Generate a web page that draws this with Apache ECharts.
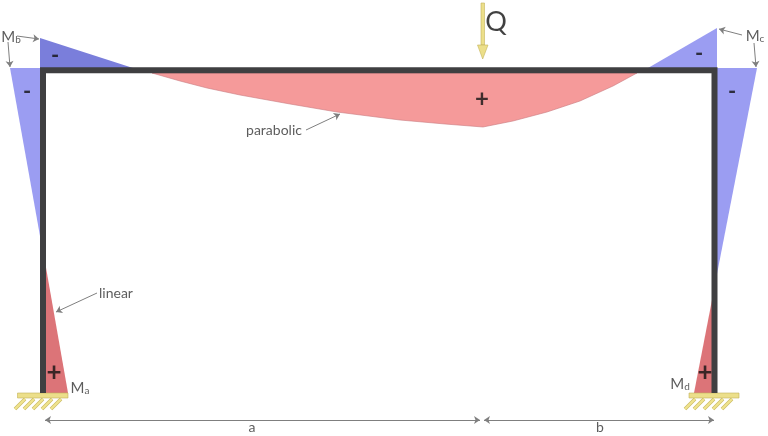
<!DOCTYPE html>
<html>
<head>
<meta charset="utf-8">
<style>html,body{margin:0;padding:0;background:#fff}#chart{width:768px;height:436px}</style>
<script src="https://cdn.jsdelivr.net/npm/echarts@6/dist/echarts.min.js"></script>
</head>
<body>
<div id="chart"></div>
<script>
const frameX = [43, 43, 714.5, 714.5];
const frameY = [393, 70.3, 70.3, 393];

const beamMomentLeft = [[40, 38], [133, 68], [40, 68]];
const beamMomentRight = [[717, 28], [717, 68], [648, 68]];
const columnMomentLeft = [[10, 68], [40, 68], [40, 236]];
const columnMomentRight = [[717, 68], [757, 68], [717, 274]];
const footMomentLeft = [[45, 262], [68, 393], [45, 393]];
const footMomentRight = [[712, 300], [712, 393], [694, 393]];
const spanMomentX = [152, 180, 207, 240, 290, 337, 400, 445, 483, 513, 547, 580, 613, 637];
const spanMomentY = [73, 81, 88, 95, 104, 112, 120, 124, 127, 121, 112, 101, 86, 73];

const plateLeft = [[17.5, 393], [68, 393], [68, 398], [17.5, 398]];
const plateRight = [[689, 393], [739, 393], [739, 398], [689, 398]];
const hatchTopX = [25, 34, 43, 52, 61, 695, 704, 714, 723, 732];
const hatchTopY = 399;
const hatchEndY = 409;
const hatchLean = 10;
const loadShaft = [[481, 3], [484.5, 3], [484.5, 45], [481, 45]];
const loadHead = [[477.5, 45], [488, 45], [482.7, 59]];

const leaderLines = [
  [[17, 36], [39, 39]],
  [[8, 42], [10, 67]],
  [[742, 35], [719, 29]],
  [[754, 43], [756, 67]],
  [[306, 130], [340, 114]],
  [[97, 293], [56, 312]]
];
const spanLines = [
  [[45, 420], [480, 420]],
  [[484, 420], [714, 420]]
];

const labelText = ['Q', '+', 'parabolic', 'linear', 'a', 'b', '-', '-', '-', '-', '+', '+',
  '{m|M}{s|b}', '{m|M}{s|c}', '{m|M}{s|a}', '{m|M}{s|d}'];
const labelX = [496, 482, 274, 116, 252, 600, 55, 27, 699, 732, 54, 705, 11, 755, 80, 680];
const labelY = [22, 99, 130, 293, 427, 427, 56, 92, 54, 92, 373, 373, 37, 36, 388, 384];
const labelSize = [27, 24, 14, 14, 14, 14, 22, 22, 22, 22, 26, 26, 14, 14, 14, 14];

function polygon(points, color, stroke) {
  return {
    type: 'custom',
    silent: true,
    data: points,
    encode: { x: 0, y: 1 },
    renderItem(params, api) {
      if (params.dataIndex !== 0) return null;
      return {
        type: 'polygon',
        shape: { points: points.map(p => api.coord(p)) },
        style: { fill: color, stroke: stroke || 'none', lineWidth: 0.6 }
      };
    }
  };
}

function arrows(data, symbol) {
  return {
    type: 'lines',
    coordinateSystem: 'cartesian2d',
    silent: true,
    symbol,
    symbolSize: 6,
    lineStyle: { color: '#7f7f7f', width: 1, opacity: 1 },
    data: data.map(coords => ({ coords }))
  };
}

function hatchSeries(color, width) {
  return {
    type: 'lines',
    coordinateSystem: 'cartesian2d',
    silent: true,
    lineStyle: { color, width, opacity: 1 },
    data: hatchTopX.map(x => ({ coords: [[x, hatchTopY], [x - hatchLean, hatchEndY]] }))
  };
}

const option = {
  animation: false,
  backgroundColor: '#fff',
  grid: { left: 0, right: 0, top: 0, bottom: 0 },
  xAxis: { type: 'value', min: 0, max: 768, show: false },
  yAxis: { type: 'value', min: 0, max: 436, inverse: true, show: false },
  series: [
    polygon(spanMomentX.map((x, i) => [x, spanMomentY[i]]), '#f59a9a', '#c97a80'),
    polygon(footMomentLeft, '#dc7478'),
    polygon(footMomentRight, '#dc7478'),
    polygon(beamMomentLeft, '#7a7edb'),
    polygon(beamMomentRight, '#9b9df2'),
    polygon(columnMomentLeft, '#9b9df2'),
    polygon(columnMomentRight, '#9b9df2'),
    hatchSeries('#c9ba62', 3.6),
    hatchSeries('#efe38e', 2.4),
    polygon(plateLeft, '#ecdf8a', '#c4b45a'),
    polygon(plateRight, '#ecdf8a', '#c4b45a'),
    {
      type: 'line',
      silent: true,
      symbol: 'none',
      lineStyle: { color: '#3f3f41', width: 6, join: 'miter', cap: 'butt' },
      data: frameX.map((x, i) => [x, frameY[i]])
    },
    polygon(loadShaft, '#ecdf8a', '#c4b45a'),
    polygon(loadHead, '#ecdf8a', '#c4b45a'),
    arrows(leaderLines, ['none', 'arrow']),
    arrows(spanLines, ['arrow', 'arrow']),
    {
      type: 'scatter',
      silent: true,
      symbolSize: 1,
      itemStyle: { color: 'transparent' },
      data: labelText.map((text, i) => ({
        value: [labelX[i], labelY[i]],
        label: {
          show: true,
          position: 'inside',
          formatter: text,
          fontFamily: 'Lato',
          fontSize: labelSize[i],
          fontWeight: text === '-' || text === '+' ? 'bold' : 'normal',
          color: labelSize[i] > 14 ? '#111' : '#333',
          rich: {
            m: { fontFamily: 'Lato', fontSize: 15, color: '#333' },
            s: { fontFamily: 'Lato', fontSize: 10, color: '#333', verticalAlign: 'bottom', padding: [6, 0, 0, 0] }
          }
        }
      }))
    }
  ]
};

const chart = echarts.init(document.getElementById('chart'));
chart.setOption(option);
</script>
</body>
</html>
